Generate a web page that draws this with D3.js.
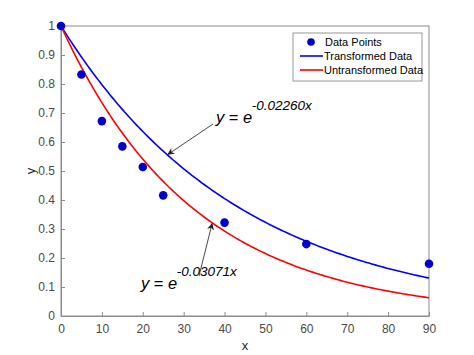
<!DOCTYPE html>
<html><head><meta charset="utf-8">
<script src="https://cdn.jsdelivr.net/npm/d3@7"></script>
<style>body{margin:0;background:#fff}svg{display:block}text{font-family:Arial,"Liberation Sans",sans-serif}</style>
</head><body><svg id="c" width="474" height="355"></svg>
<script>
const pointX = [0, 5, 10, 15, 20, 25, 40, 60, 90];
const pointY = [1, 0.833, 0.672, 0.585, 0.514, 0.416, 0.322, 0.248, 0.18];
const fitNames = ["Transformed Data", "Untransformed Data"];
const fitRates = [0.02260, 0.03071];
const xTicks = [0,10,20,30,40,50,60,70,80,90];
const yTicks = [0,0.1,0.2,0.3,0.4,0.5,0.6,0.7,0.8,0.9,1];

const svg = d3.select("#c");
const L=61, R=429, T=26, B=316;
const x = d3.scaleLinear().domain([0,90]).range([L,R]);
const y = d3.scaleLinear().domain([0,1]).range([B,T]);
const axisCol = "#8c8c8c", textCol="#4a4a4a";

svg.append("rect").attr("x",L).attr("y",T).attr("width",R-L).attr("height",B-T)
  .attr("fill","none").attr("stroke",axisCol).attr("stroke-width",1);

const gx = svg.append("g").attr("transform",`translate(0,${B})`)
  .call(d3.axisBottom(x).tickValues(xTicks).tickSizeInner(-4).tickSizeOuter(0).tickPadding(8));
const gy = svg.append("g").attr("transform",`translate(${L},0)`)
  .call(d3.axisLeft(y).tickValues(yTicks).tickSizeInner(-4).tickSizeOuter(0).tickPadding(6).tickFormat(d=>d===0?"0":d===1?"1":d3.format(".1f")(d)));
[gx,gy].forEach(g=>{
  g.select(".domain").attr("stroke",axisCol);
  g.selectAll(".tick line").attr("stroke",axisCol);
  g.selectAll(".tick text").attr("fill",textCol).style("font-size","12px").style("font-family","Arial, 'Liberation Sans', sans-serif");
});

svg.append("text").attr("x",(L+R)/2).attr("y",350).attr("text-anchor","middle")
  .attr("fill","#262626").style("font-size","13px").text("x");
svg.append("text").attr("transform",`translate(35,${(T+B)/2}) rotate(-90)`).attr("text-anchor","middle")
  .attr("fill","#262626").style("font-size","13px").text("y");

const colors = ["#0000ff","#ff0000"];
const xs = d3.range(0, 90.01, 0.5);
fitRates.forEach((k,i)=>{
  svg.append("path").datum(xs.map(v=>[v,Math.exp(-k*v)]))
    .attr("fill","none").attr("stroke",colors[i]).attr("stroke-width",1.6)
    .attr("d", d3.line().x(d=>x(d[0])).y(d=>y(d[1])));
});

svg.selectAll("circle.pt").data(pointX.map((v,i)=>[v,pointY[i]])).enter()
  .append("circle").attr("class","pt").attr("cx",d=>x(d[0])).attr("cy",d=>y(d[1]))
  .attr("r",4.3).attr("fill","#0000cd");

const defs = svg.append("defs");
defs.append("marker").attr("id","ah").attr("viewBox","0 0 10 10").attr("refX",10).attr("refY",5)
  .attr("markerWidth",9).attr("markerHeight",7).attr("markerUnits","userSpaceOnUse").attr("orient","auto")
  .append("path").attr("d","M0,0 L10,5 L0,10 L3,5 Z").attr("fill","#222");

function annot(tx,ty,k,ax1,ay1,ax2,ay2){
  svg.append("line").attr("x1",ax1).attr("y1",ay1).attr("x2",ax2).attr("y2",ay2)
    .attr("stroke","#333").attr("stroke-width",0.9).attr("marker-end","url(#ah)");
  const t = svg.append("text").attr("x",tx).attr("y",ty).attr("fill","#000").style("font-size","16.5px");
  t.append("tspan").style("font-style","italic").text("y");
  t.append("tspan").text(" = ");
  t.append("tspan").style("font-style","italic").text("e");
  const w = t.node().getComputedTextLength();
  svg.append("text").attr("x",tx+w-0.5).attr("y",ty-13).attr("fill","#000")
    .style("font-size","13.5px").style("font-style","italic").text("-"+k.toFixed(5)+"x");
}
annot(216,123,fitRates[0], 213,124, x(26), y(Math.exp(-fitRates[0]*26)));
annot(141,289,fitRates[1], 199,276, x(37), y(Math.exp(-fitRates[1]*37)));

const lg = svg.append("g");
lg.append("rect").attr("x",293).attr("y",33).attr("width",129).attr("height",48)
  .attr("fill","#fff").attr("stroke","#7f7f7f").attr("stroke-width",0.8);
const rows = [42,56,70];
lg.append("circle").attr("cx",311).attr("cy",rows[0]).attr("r",3.8).attr("fill","#0000cd");
fitNames.forEach((n,i)=>{
  lg.append("line").attr("x1",300).attr("x2",323).attr("y1",rows[i+1]).attr("y2",rows[i+1])
    .attr("stroke",colors[i]).attr("stroke-width",1.6);
});
["Data Points"].concat(fitNames).forEach((n,i)=>{
  lg.append("text").attr("x",i===0?325:324).attr("y",rows[i]+4).attr("fill","#000")
    .style("font-size","11px").text(n);
});
</script></body></html>
